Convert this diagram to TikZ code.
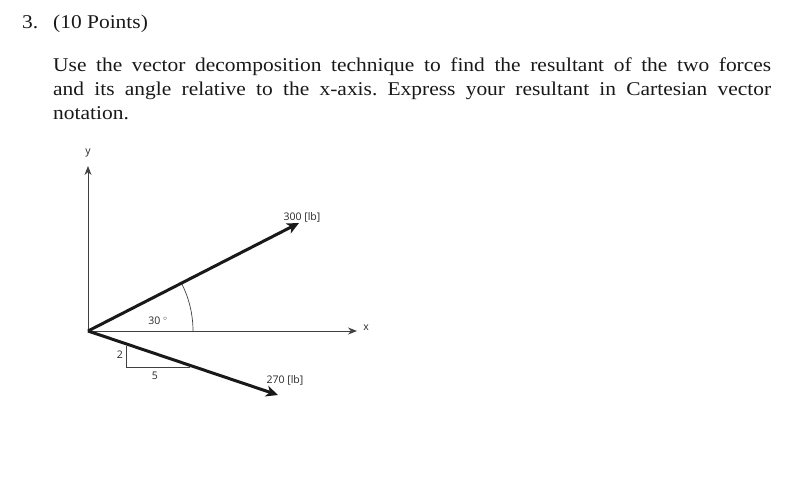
\documentclass[tikz,border=0pt]{standalone}
\usepackage{fontspec}
\setmainfont[FakeStretch=1.1]{Liberation Serif}
\newfontfamily\labfont{Open Sans}
\usetikzlibrary{arrows.meta}
\begin{document}
\frenchspacing
\begin{tikzpicture}[x=1pt,y=-1pt,
  axis/.style={draw=black!75, line width=0.9pt, -{Stealth[length=9pt,width=7pt]}},
  force/.style={draw=black!90, line width=3pt, -{Stealth[length=12pt,width=11pt,inset=3.5pt]}},
  thin/.style={draw=black!75, line width=0.7pt},
  lab/.style={font=\labfont\fontsize{10.5}{12}\selectfont, text=black!85, inner sep=0pt},
  body/.style={font=\fontsize{19.5}{24.5}\selectfont, text=black!90, inner sep=0pt}]
\useasboundingbox (0,0) rectangle (801,487);
% text
\node[body, anchor=base west] (num) at (22,29) {3.};
\node[body, anchor=base west] (pts) at (53,29) {(10 Points)};
\node[body, anchor=base west, text width=718pt, align=justify] (q) at (53,71)
 {\frenchspacing Use the vector decomposition technique to find the resultant of the two forces\linebreak and its angle relative to the x-axis. Express your resultant in Cartesian vector\linebreak notation.};
% diagram
\coordinate (O) at (88,331);
\coordinate (Y) at (88,166);
\coordinate (X) at (357,331);
\coordinate (F1) at (299,223);
\coordinate (F2) at (278,395);
\draw[axis] (O) -- (Y);
\draw[axis] (O) -- (X);
\node[lab] (ylab) at (88,153) {y};
\node[lab] (xlab) at (366,328) {x};
% angle arc
\draw[thin] (O) ++(0:105) arc[start angle=0, end angle=-26.5, radius=105];
% slope triangle
\coordinate (T1) at (126.5,345.5);
\coordinate (T2) at (126.5,367);
\coordinate (T3) at (190,367);
\draw[thin] (T1) -- (T2) -- (T3);
\draw[force] (O) -- (F1);
\draw[force] (O) -- (F2);
\node[lab] (l300) at (302,217) {300 [lb]};
\node[lab] (l270) at (285,380) {270 [lb]};
\node[lab] (l30) at (158,321) {30 $^{\circ}$};
\node[lab] (l2) at (120,355) {2};
\node[lab] (l5) at (155,376) {5};
\end{tikzpicture}
\end{document}
